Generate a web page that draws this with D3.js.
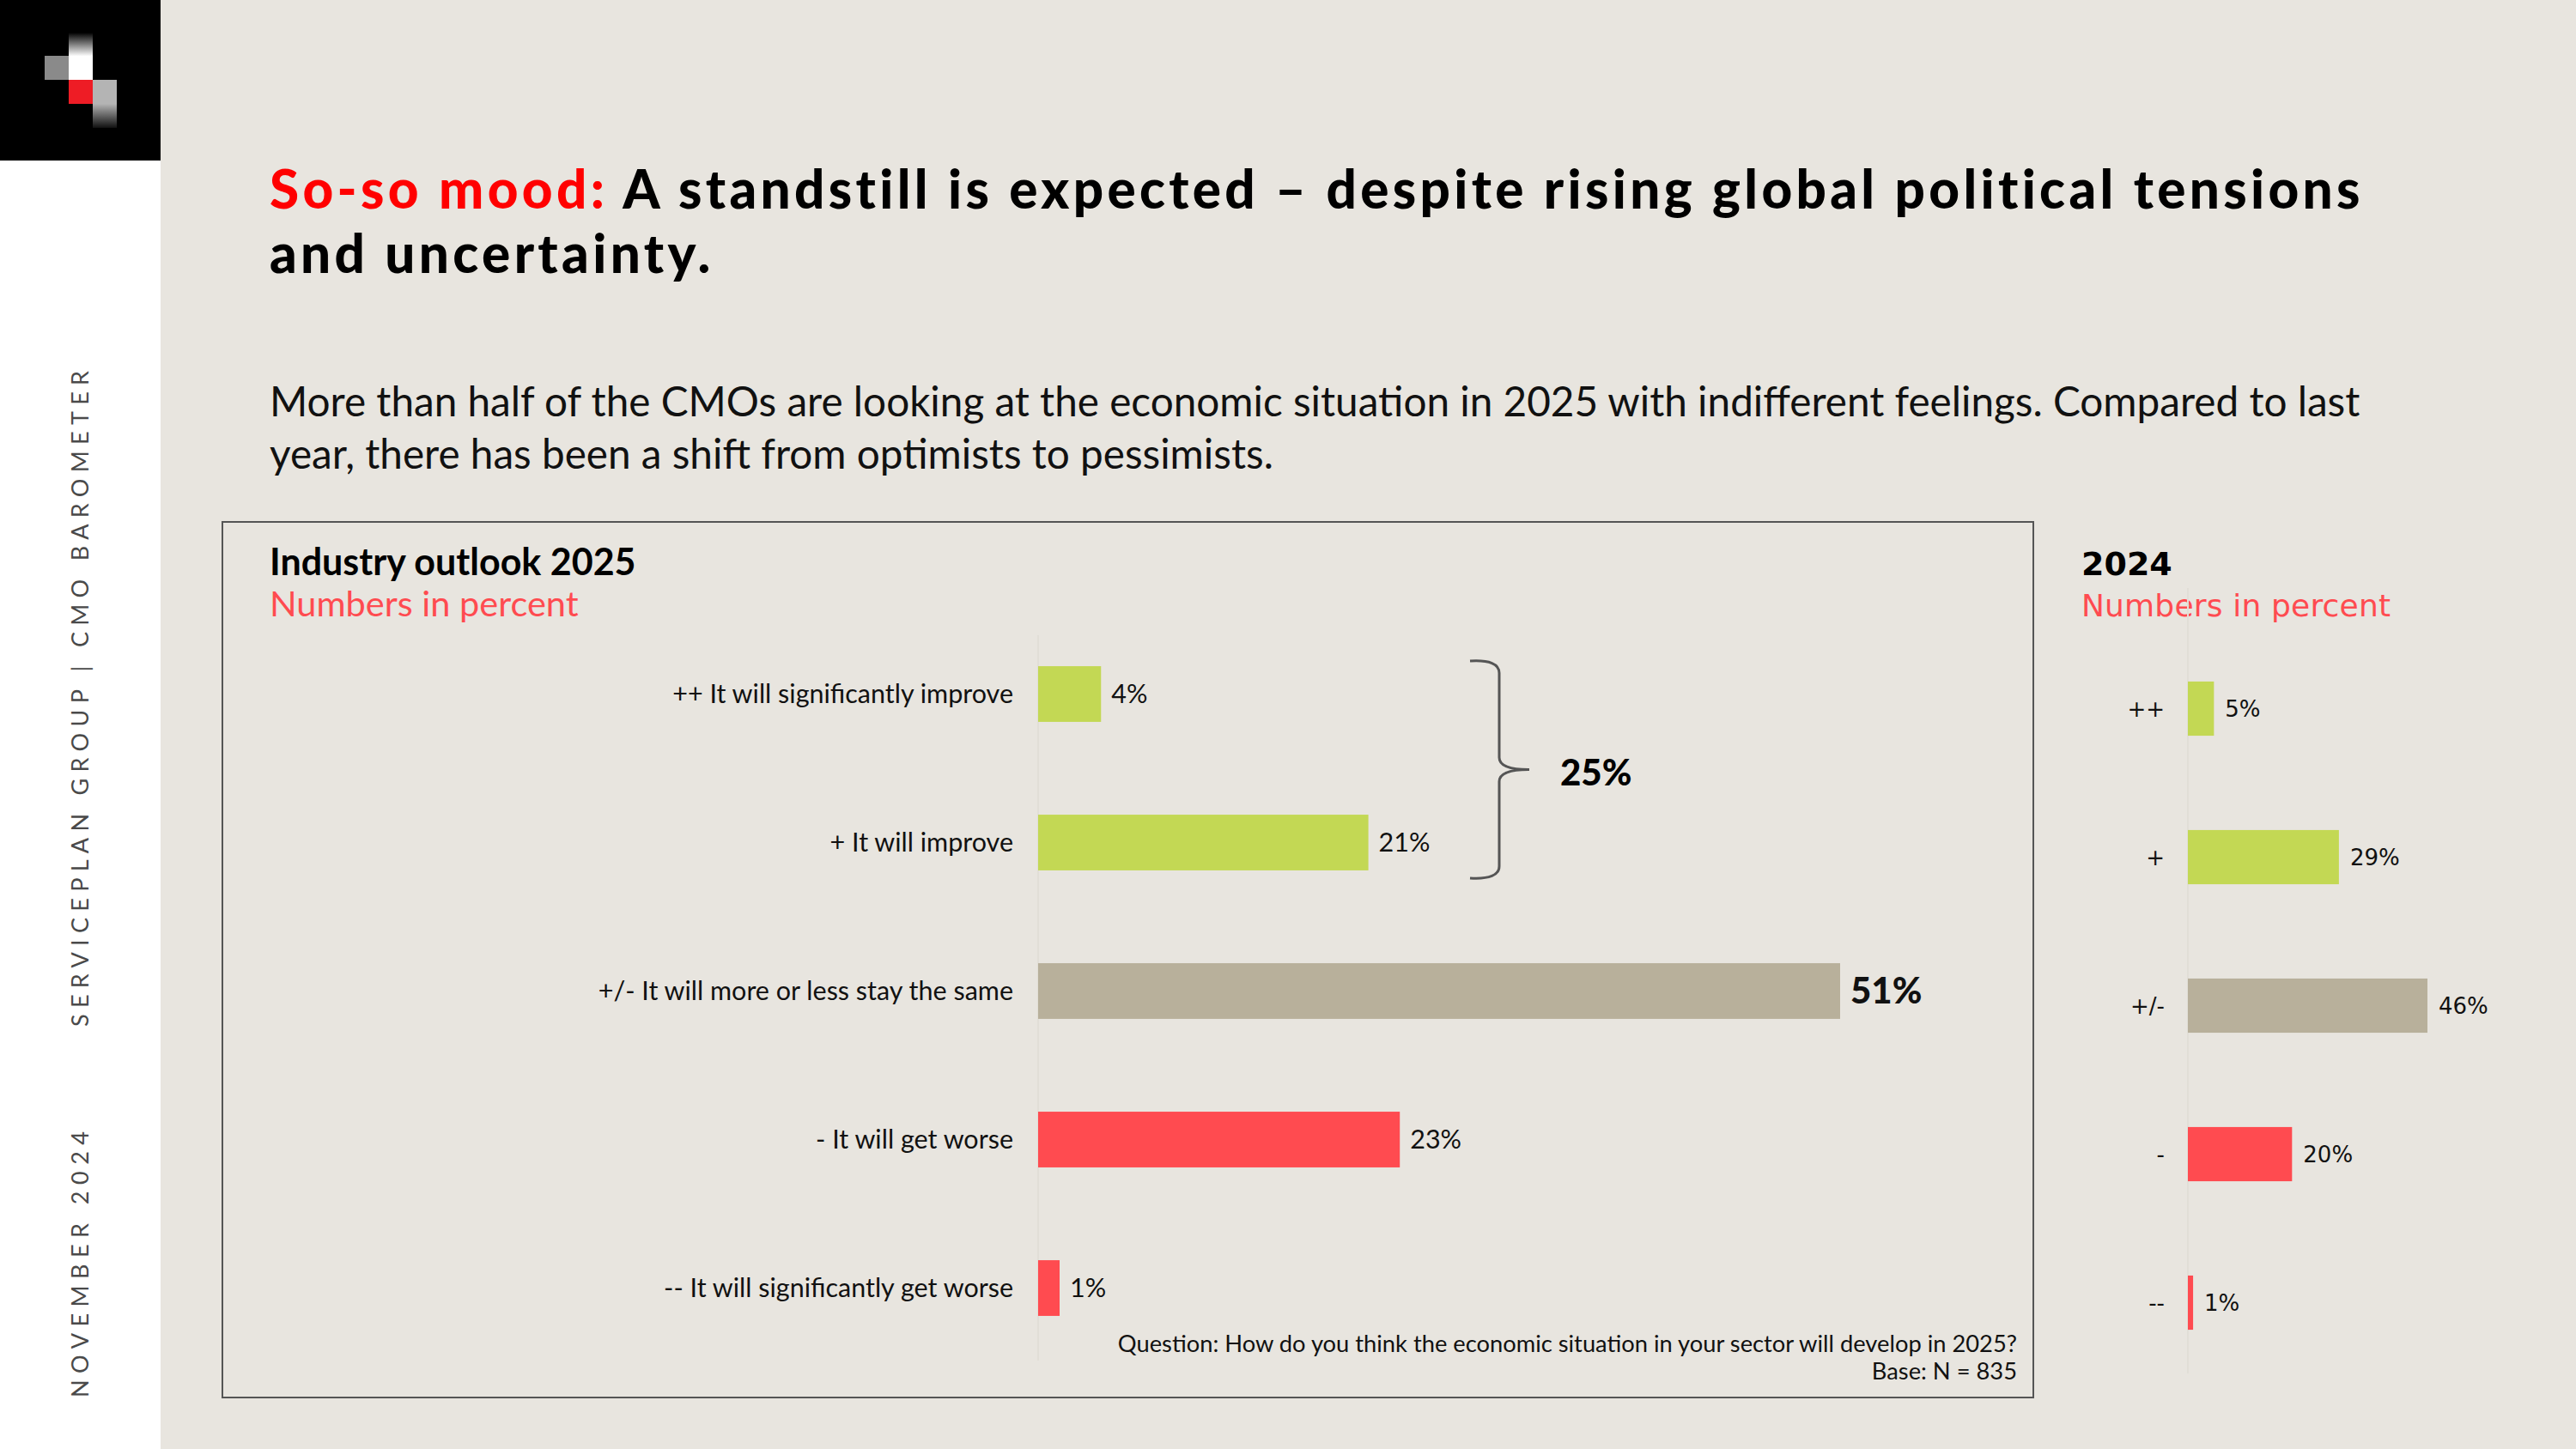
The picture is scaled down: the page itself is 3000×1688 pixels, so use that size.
<!DOCTYPE html>
<html>
<head>
<meta charset="utf-8">
<script src="https://cdn.jsdelivr.net/npm/d3@7"></script>
<style>
  html, body { margin: 0; padding: 0; background: #e8e5df; }
  svg { display: block; }
</style>
</head>
<body>
<div id="chart"></div>
<script>
// data
var categories2025 = ["++ It will significantly improve", "+ It will improve", "+/- It will more or less stay the same", "- It will get worse", "-- It will significantly get worse"];
var values2025 = [4, 21, 51, 23, 1];
var categories2024 = ["++", "+", "+/-", "-", "--"];
var values2024 = [5, 29, 46, 20, 1];
var barColors = ["#c3d854", "#c3d854", "#b8b09b", "#ff4b50", "#ff4b50"];
var positiveShare = "25%";

var width = 3000, height = 1688;
var sans = "Lato, 'Open Sans', sans-serif";

var svg = d3.select("#chart").append("svg")
  .attr("width", width)
  .attr("height", height);

svg.append("rect").attr("width", width).attr("height", height).attr("fill", "#e8e5df");

// scale a text's font so its first line spans the wanted width, return the size
function fitWidth(sel, target) {
  var size = +sel.attr("font-size");
  var w = sel.node().getComputedTextLength();
  var s = size * target / w;
  sel.attr("font-size", s);
  return s;
}

// left strip + logo
svg.append("rect").attr("x", 0).attr("y", 0).attr("width", 187).attr("height", height).attr("fill", "#ffffff");
svg.append("rect").attr("x", 0).attr("y", 0).attr("width", 187).attr("height", 187).attr("fill", "#000000");

var defs = svg.append("defs");
var g1 = defs.append("linearGradient").attr("id", "fadeTop").attr("x1", 0).attr("y1", 0).attr("x2", 0).attr("y2", 1);
g1.append("stop").attr("offset", "0%").attr("stop-color", "#000");
g1.append("stop").attr("offset", "50%").attr("stop-color", "#fff");
g1.append("stop").attr("offset", "100%").attr("stop-color", "#fff");
var g2 = defs.append("linearGradient").attr("id", "fadeBottom").attr("x1", 0).attr("y1", 0).attr("x2", 0).attr("y2", 1);
g2.append("stop").attr("offset", "0%").attr("stop-color", "#b4b4b4");
g2.append("stop").attr("offset", "50%").attr("stop-color", "#b4b4b4");
g2.append("stop").attr("offset", "100%").attr("stop-color", "#111");

svg.append("rect").attr("x", 52).attr("y", 65).attr("width", 28).attr("height", 28).attr("fill", "#8a8a8a");
svg.append("rect").attr("x", 80).attr("y", 38).attr("width", 28).attr("height", 55).attr("fill", "url(#fadeTop)");
svg.append("rect").attr("x", 80).attr("y", 93).attr("width", 28).attr("height", 28).attr("fill", "#ee1c25");
svg.append("rect").attr("x", 108).attr("y", 93).attr("width", 28).attr("height", 56).attr("fill", "url(#fadeBottom)");

// vertical side texts
svg.append("text")
  .attr("transform", "translate(103,1196) rotate(-90)")
  .attr("font-family", sans).attr("font-size", 27).attr("fill", "#4a4a4a")
  .attr("textLength", 764).attr("lengthAdjust", "spacing")
  .text("SERVICEPLAN GROUP | CMO BAROMETER");
svg.append("text")
  .attr("transform", "translate(103,1628) rotate(-90)")
  .attr("font-family", sans).attr("font-size", 27).attr("fill", "#4a4a4a")
  .attr("textLength", 310).attr("lengthAdjust", "spacing")
  .text("NOVEMBER 2024");

// headline: fixed size, letters spread to the reference width
var titleSize = 62;
var title = svg.append("text")
  .attr("x", 314).attr("y", 243)
  .attr("font-family", sans).attr("font-weight", 900).attr("font-size", titleSize).attr("fill", "#000");
title.append("tspan").attr("fill", "#ff0000").text("So-so mood: ");
title.append("tspan").text("A standstill is expected – despite rising global political tensions");
var titleChars = title.text().length;
var titleSpacing = (2441 - title.node().getComputedTextLength()) / titleChars;
title.attr("letter-spacing", titleSpacing);
svg.append("text")
  .attr("x", 314).attr("y", 318)
  .attr("font-family", sans).attr("font-weight", 900).attr("font-size", titleSize).attr("fill", "#000")
  .attr("letter-spacing", titleSpacing)
  .text("and uncertainty.");

var lead = svg.append("text")
  .attr("x", 314).attr("y", 485)
  .attr("font-family", sans).attr("font-size", 47).attr("fill", "#111")
  .text("More than half of the CMOs are looking at the economic situation in 2025 with indifferent feelings. Compared to last");
var leadSize = fitWidth(lead, 2435);
svg.append("text")
  .attr("x", 314).attr("y", 546)
  .attr("font-family", sans).attr("font-size", leadSize).attr("fill", "#111")
  .text("year, there has been a shift from optimists to pessimists.");

// box for 2025 chart
svg.append("rect")
  .attr("x", 259).attr("y", 608).attr("width", 2109).attr("height", 1020)
  .attr("fill", "none").attr("stroke", "#555").attr("stroke-width", 2);

svg.append("text").attr("x", 314).attr("y", 670)
  .attr("font-family", sans).attr("font-weight", 700).attr("font-size", 43).attr("fill", "#000")
  .text("Industry outlook 2025");
svg.append("text").attr("x", 314).attr("y", 718)
  .attr("font-family", sans).attr("font-size", 41.5).attr("fill", "#ff4b50")
  .text("Numbers in percent");

// 2025 bars
var x25 = d3.scaleLinear().domain([0, 51]).range([1209, 2143]);
var y25 = d3.scaleBand().domain(categories2025).range([722, 1587]).paddingInner(0.625).paddingOuter(0.3125);

svg.append("line")
  .attr("x1", x25(0)).attr("x2", x25(0)).attr("y1", 740).attr("y2", 1585)
  .attr("stroke", "#e1ded7").attr("stroke-width", 2);

var rows25 = svg.selectAll(".row25")
  .data(categories2025)
  .enter().append("g")
  .attr("class", "row25");

rows25.append("rect")
  .attr("x", x25(0))
  .attr("y", function(d) { return y25(d); })
  .attr("width", function(d, i) { return Math.max(25, x25(values2025[i]) - x25(0)); })
  .attr("height", y25.bandwidth())
  .attr("fill", function(d, i) { return barColors[i]; });

rows25.append("text")
  .attr("x", x25(0) - 29)
  .attr("y", function(d) { return y25(d) + y25.bandwidth() / 2; })
  .attr("dy", ".35em")
  .attr("text-anchor", "end")
  .attr("font-family", sans).attr("font-size", 30.5).attr("fill", "#111")
  .text(function(d) { return d; });

rows25.append("text")
  .attr("x", function(d, i) { return Math.max(x25(0) + 25, x25(values2025[i])) + 12; })
  .attr("y", function(d) { return y25(d) + y25.bandwidth() / 2; })
  .attr("dy", ".35em")
  .attr("font-family", sans)
  .attr("font-size", function(d, i) { return values2025[i] === d3.max(values2025) ? 42 : 30.5; })
  .attr("font-weight", function(d, i) { return values2025[i] === d3.max(values2025) ? 900 : 400; })
  .attr("fill", "#111")
  .text(function(d, i) { return values2025[i] + "%"; });

// bracket grouping the two positive answers
var bTop = y25(categories2025[0]) - 6, bBot = y25(categories2025[1]) + y25.bandwidth() + 9;
var bMid = (bTop + bBot) / 2;
var bx = 1746;
svg.append("path")
  .attr("d", "M1712," + bTop + " Q" + bx + "," + (bTop - 2) + " " + bx + "," + (bTop + 14) +
    " L" + bx + "," + (bMid - 14) + " Q" + bx + "," + bMid + " 1781," + bMid +
    " Q" + bx + "," + bMid + " " + bx + "," + (bMid + 14) +
    " L" + bx + "," + (bBot - 14) + " Q" + bx + "," + (bBot + 2) + " 1712," + bBot)
  .attr("fill", "none").attr("stroke", "#555").attr("stroke-width", 3);
svg.append("text")
  .attr("x", 1817).attr("y", bMid + 4).attr("dy", ".35em")
  .attr("font-family", sans).attr("font-weight", 900).attr("font-size", 42).attr("fill", "#000")
  .text(positiveShare);

// footnote
var note = svg.append("text").attr("x", 2349).attr("y", 1575).attr("text-anchor", "end")
  .attr("font-family", sans).attr("font-size", 27).attr("fill", "#111")
  .text("Question: How do you think the economic situation in your sector will develop in 2025?");
var noteSize = fitWidth(note, 1048);
svg.append("text").attr("x", 2349).attr("y", 1607).attr("text-anchor", "end")
  .attr("font-family", sans).attr("font-size", noteSize).attr("fill", "#111")
  .text("Base: N = 835");

// 2024 comparison panel
var wide = "'DejaVu Sans', sans-serif";
svg.append("text").attr("x", 2424).attr("y", 670)
  .attr("font-family", wide).attr("font-weight", 700).attr("font-size", 38).attr("fill", "#000")
  .text("2024");
svg.append("text").attr("x", 2424).attr("y", 718)
  .attr("font-family", wide).attr("font-size", 36).attr("fill", "#ff4b50")
  .attr("textLength", 360).attr("lengthAdjust", "spacing")
  .text("Numbers in percent");

var x24 = d3.scaleLinear().domain([0, 46]).range([2548, 2827]);
var y24 = d3.scaleBand().domain(categories2024).range([739, 1604]).paddingInner(0.635).paddingOuter(0.3175);

svg.append("line")
  .attr("x1", x24(0)).attr("x2", x24(0)).attr("y1", 685).attr("y2", 1600)
  .attr("stroke", "#e1ded7").attr("stroke-width", 2);

var rows24 = svg.selectAll(".row24")
  .data(categories2024)
  .enter().append("g")
  .attr("class", "row24");

rows24.append("rect")
  .attr("x", x24(0))
  .attr("y", function(d) { return y24(d); })
  .attr("width", function(d, i) { return Math.max(4, x24(values2024[i]) - x24(0)); })
  .attr("height", y24.bandwidth())
  .attr("fill", function(d, i) { return barColors[i]; });

rows24.append("text")
  .attr("x", x24(0) - 27)
  .attr("y", function(d) { return y24(d) + y24.bandwidth() / 2; })
  .attr("dy", ".35em")
  .attr("text-anchor", "end")
  .attr("font-family", wide).attr("font-size", 26).attr("fill", "#111")
  .text(function(d) { return d; });

rows24.append("text")
  .attr("x", function(d, i) { return Math.max(x24(0) + 4, x24(values2024[i])) + 13; })
  .attr("y", function(d) { return y24(d) + y24.bandwidth() / 2; })
  .attr("dy", ".35em")
  .attr("font-family", wide).attr("font-size", 26).attr("fill", "#111")
  .text(function(d, i) { return values2024[i] + "%"; });
</script>
</body>
</html>
